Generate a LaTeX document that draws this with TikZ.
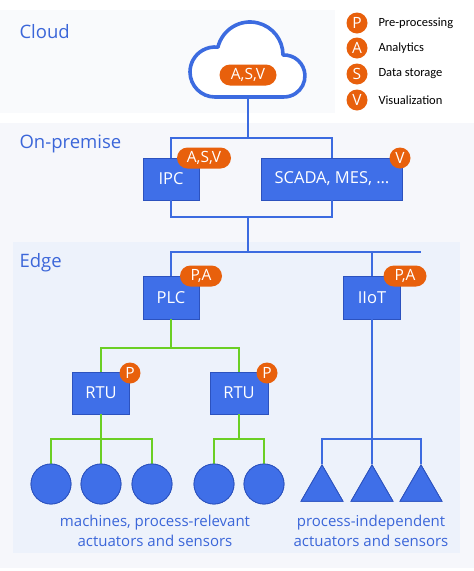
\documentclass[tikz,border=0pt]{standalone}
\usepackage{fontspec}
\setmainfont{Open Sans}
\newfontfamily\legendfont{Carlito}
\usetikzlibrary{shapes.geometric}

\definecolor{boxblue}{HTML}{3F6FE8}
\definecolor{boxline}{HTML}{2C52BE}
\definecolor{wireblue}{HTML}{3C6BE0}
\definecolor{wiregreen}{HTML}{6BCF24}
\definecolor{tagorange}{HTML}{E8600C}
\definecolor{labelblue}{HTML}{3B66D9}
\definecolor{cloudband}{HTML}{F9FAFC}
\definecolor{premband}{HTML}{F6F7FB}
\definecolor{edgeband}{HTML}{EDF2FB}

\begin{document}
\begin{tikzpicture}[x=1pt,y=-1pt,
    box/.style={draw=boxline, line width=0.8pt, fill=boxblue, text=white,
        font=\fontsize{16.5}{16.5}\selectfont, minimum height=42pt, inner sep=0pt},
    tag/.style={fill=tagorange, text=white, rounded corners=10.5pt,
        font=\fontsize{15.5}{15.5}\selectfont, minimum height=21pt, inner sep=0pt},
    dot/.style={circle, fill=tagorange, text=white, minimum size=21pt,
        inner sep=0pt, font=\fontsize{15.5}{15.5}\selectfont},
    layer/.style={text=labelblue, font=\fontsize{18.5}{18.5}\selectfont, anchor=west},
    legend/.style={anchor=west, font=\legendfont\fontsize{12.5}{12.5}\selectfont},
    wire/.style={wireblue, line width=1.8pt},
    gwire/.style={wiregreen, line width=2pt},
    dev/.style={circle, draw=boxline, line width=0.8pt, fill=boxblue,
        minimum size=40pt, inner sep=0pt},
    sens/.style={regular polygon, regular polygon sides=3, draw=boxline,
        line width=0.8pt, fill=boxblue, minimum size=48.5pt, inner sep=0pt},
    note/.style={text=labelblue, font=\fontsize{15}{20}\selectfont, align=center}]

    \useasboundingbox (0,0) rectangle (474,571);

    % layers
    \fill[white] (0,0) rectangle (474,571);
    \fill[cloudband] (0,10) rectangle (335,113);
    \fill[premband] (0,123) rectangle (474,568);
    \fill[edgeband] (13,242) rectangle (460,553);

    \node[layer] (lcloud) at (16,32) {Cloud};
    \node[layer] (lprem) at (16,144) {On-premise};
    \node[layer] (ledge) at (16,263) {Edge};

    % legend
    \node[dot] (lp) at (357,23) {P};
    \node[dot] (la) at (357,48) {A};
    \node[dot] (ls) at (357,74) {S};
    \node[dot] (lv) at (357,100) {V};
    \node[legend] (tp) at (375,23) {Pre-processing};
    \node[legend] (ta) at (375,48) {Analytics};
    \node[legend] (ts) at (375,74) {Data storage};
    \node[legend] (tv) at (375,100) {Visualization};

    % cloud
    \draw[wireblue, line width=3.6pt, fill=white, line join=round]
        (215,97) arc [start angle=90, end angle=276.7, radius=25]
        arc [start angle=193.7, end angle=360, radius=33]
        arc [start angle=267.3, end angle=450, radius=21] -- cycle;
    \coordinate (cloud) at (248,97);
    \node[tag, minimum width=57pt] (cloudtag) at (248,75) {A,S,V};

    % on-premise
    \node[box, minimum width=56pt] (ipc) at (171,179) {IPC};
    \node[box, minimum width=141pt] (scada) at (332,179) {SCADA, MES, \dots};
    \node[tag, minimum width=54pt] (ipctag) at (204,158) {A,S,V};
    \node[dot] (scadatag) at (400,158) {V};

    \coordinate (bus1) at (248,138);
    \coordinate (bus2) at (248,217);
    \coordinate (bus3) at (248,252);
    \coordinate (busend) at (421,252);

    % edge
    \node[box, minimum width=56pt, minimum height=43pt] (plc) at (171,297.5) {PLC};
    \node[box, minimum width=57pt, minimum height=43pt] (iiot) at (372,297.5) {IIoT};

    \node[box, minimum width=57pt] (rtu1) at (101,393) {RTU};
    \node[box, minimum width=58pt] (rtu2) at (239,393) {RTU};

    \coordinate (gbus) at (171,348);
    \coordinate (g1) at (101,439);
    \coordinate (g2) at (239,439);
    \coordinate (b3) at (372,439);

    \node[dev] (d1) at (51,484) {};
    \node[dev] (d2) at (101,484) {};
    \node[dev] (d3) at (152,484) {};
    \node[dev] (d4) at (214,484) {};
    \node[dev] (d5) at (264,484) {};

    \node[sens] (s1) at (322,489.2) {};
    \node[sens] (s2) at (372,489.2) {};
    \node[sens] (s3) at (421,489.2) {};

    % blue wiring
    \draw[wire] (cloud) -- (bus1);
    \draw[wire] (ipc.north) |- (bus1) -| (scada.north);
    \draw[wire] (ipc.south) |- (bus2) -| (scada.south);
    \draw[wire] (bus2) -- (bus3);
    \draw[wire] (plc.north) |- (busend);
    \draw[wire] (iiot.north) -- (iiot.north |- busend);
    \draw[wire] (iiot.south) -- (b3) -- (s2.corner 1);
    \draw[wire] (s1.corner 1) |- (b3) -| (s3.corner 1);

    % green wiring
    \draw[gwire] (plc.south) -- (gbus);
    \draw[gwire] (rtu1.north) |- (gbus) -| (rtu2.north);
    \draw[gwire] (rtu1.south) -- (g1) -- (d2.north);
    \draw[gwire] (d1.north) |- (g1) -| (d3.north);
    \draw[gwire] (rtu2.south) -- (g2);
    \draw[gwire] (d4.north) |- (g2) -| (d5.north);

    % redraw devices over the wires
    \foreach \d in {d1,d2,d3,d4,d5}
        \node[dev] at (\d) {};
    \foreach \s in {s1,s2,s3}
        \node[sens] at (\s) {};

    % tags
    \node[tag, minimum width=42pt] (plctag) at (201,276) {P,A};
    \node[tag, minimum width=43pt] (iiottag) at (405,276) {P,A};
    \node[dot] (rtu1tag) at (130,373) {P};
    \node[dot] (rtu2tag) at (267,373) {P};

    \node[note] (n1) at (155,531) {machines, process-relevant\\actuators and sensors};
    \node[note] (n2) at (371,531) {process-independent\\actuators and sensors};
\end{tikzpicture}
\end{document}
